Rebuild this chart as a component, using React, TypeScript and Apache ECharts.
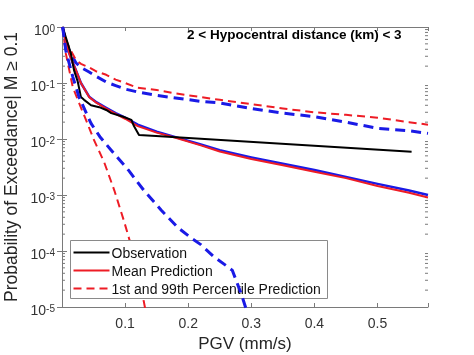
import React, { useEffect, useRef } from "react";
import * as echarts from "echarts";

// ---- data ----
const pgvPred = [0.001, 0.005, 0.011, 0.017, 0.022, 0.03, 0.043, 0.055, 0.07, 0.085, 0.1, 0.12, 0.15, 0.18, 0.22, 0.25, 0.3, 0.35, 0.4, 0.45, 0.5, 0.55, 0.58];
const meanRed = [1, 0.6, 0.35, 0.23, 0.17, 0.1, 0.056, 0.044, 0.035, 0.028, 0.023, 0.017, 0.013, 0.0105, 0.0077, 0.006, 0.0044, 0.0034, 0.0026, 0.002, 0.00145, 0.0011, 0.0009];
const meanBlue = [1, 0.6, 0.35, 0.23, 0.17, 0.1, 0.057, 0.045, 0.036, 0.029, 0.024, 0.018, 0.0135, 0.0108, 0.008, 0.0063, 0.0047, 0.0036, 0.0028, 0.0021, 0.00158, 0.0012, 0.001];
const upperRed = [1, 0.65, 0.44, 0.33, 0.26, 0.22, 0.19, 0.16, 0.14, 0.115, 0.1, 0.082, 0.075, 0.065, 0.056, 0.05, 0.042, 0.035, 0.03, 0.027, 0.024, 0.02, 0.018];
const upperBlue = [1, 0.6, 0.39, 0.29, 0.23, 0.19, 0.157, 0.13, 0.104, 0.09, 0.078, 0.069, 0.06, 0.054, 0.047, 0.044, 0.035, 0.029, 0.025, 0.02, 0.0155, 0.014, 0.0126];

const pgvLowRed = [0.001, 0.006, 0.017, 0.027, 0.038, 0.05, 0.067, 0.083, 0.098, 0.11, 0.12, 0.13, 0.135];
const lowRed = [1, 0.34, 0.085, 0.044, 0.022, 0.01, 0.0038, 0.0012, 0.00035, 0.00012, 0.00004, 0.000012, 0.000006];
const pgvLowBlue = [0.001, 0.006, 0.017, 0.027, 0.046, 0.06, 0.078, 0.105, 0.13, 0.157, 0.184, 0.205, 0.22, 0.24, 0.26, 0.27, 0.285, 0.292];
const lowBlue = [1, 0.38, 0.13, 0.056, 0.019, 0.011, 0.0063, 0.0028, 0.0012, 0.00054, 0.00026, 0.00017, 0.00013, 0.00008, 0.000055, 0.000045, 0.000016, 0.000009];

const pgvObs = [0.001, 0.014, 0.019, 0.025, 0.03, 0.035, 0.046, 0.059, 0.07, 0.078, 0.097, 0.11, 0.114, 0.122, 0.149, 0.554];
const obs = [1, 0.34, 0.17, 0.105, 0.056, 0.05, 0.04, 0.037, 0.033, 0.029, 0.025, 0.022, 0.017, 0.0118, 0.0113, 0.0059];

const legendNames = ["Observation", "Mean Prediction", "1st and 99th Percentile Prediction"];
const titleText = "2 < Hypocentral distance (km) < 3";
const xName = "PGV (mm/s)";
const yName = "Probability of Exceedance| M \u2265 0.1";

const minorVals: number[] = [];
for (let d = -5; d <= -1; d++) for (let k = 2; k <= 9; k++) minorVals.push(k * Math.pow(10, d));

const RED = "#ee1c25";
const BLUE = "#1a1ae6";
const AX = "#7a7a7a";
const FONT = "'Liberation Sans', Arial, Helvetica, sans-serif";

const zip = (xs: number[], ys: number[]) => xs.map((x, i) => [x, ys[i]]);

export default function App() {
  const ref = useRef<HTMLDivElement>(null);
  useEffect(() => {
    const chart = echarts.init(ref.current!, null, { renderer: "svg" });
    const line = (data: number[][], color: string, width: number, dashed: boolean, z = 2, dash = [8, 5]) => ({
      type: "line",
      data,
      showSymbol: false,
      symbol: "none",
      silent: true,
      z,
      lineStyle: { color, width, type: dashed ? dash : "solid", cap: "butt", join: "round" },
    });
    const yLabel = (v: number) => {
      const e = Math.round(Math.log10(v));
      return `{a|10}{b|${e}}`;
    };
    chart.setOption({
      animation: false,
      grid: { left: 62, top: 27, right: 46, bottom: 48, containLabel: false, outerBoundsMode: "none" },
      xAxis: [
        {
          type: "value", min: 0, max: 0.58, interval: 0.1,
          name: xName, nameLocation: "middle", nameGap: 20,
          nameTextStyle: { fontFamily: FONT, fontSize: 17, color: "#262626" },
          axisLine: { show: true, lineStyle: { color: AX, width: 1 } },
          axisTick: { show: true, inside: true, length: 4, lineStyle: { color: AX } },
          axisLabel: {
            fontFamily: FONT, fontSize: 14, color: "#333", margin: 9,
            formatter: (v: number) => (v > 0.05 && v < 0.55 ? v.toFixed(1) : ""),
          },
          splitLine: { show: false },
        },
        {
          type: "value", min: 0, max: 0.58, interval: 0.1, position: "top",
          axisLine: { show: true, lineStyle: { color: AX, width: 1 } },
          axisTick: { show: true, inside: true, length: 4, lineStyle: { color: AX } },
          axisLabel: { show: false },
          splitLine: { show: false },
        },
      ],
      yAxis: [
        {
          type: "log", logBase: 10, min: 1e-5, max: 1,
          name: yName, nameLocation: "middle", nameGap: 36,
          nameTextStyle: { fontFamily: FONT, fontSize: 17.5, color: "#262626" },
          axisLine: { show: true, lineStyle: { color: AX, width: 1 } },
          axisTick: { show: true, inside: true, length: 5, lineStyle: { color: AX } },
          axisLabel: {
            fontFamily: FONT, color: "#333", margin: 7, padding: [6, 0, 0, 0],
            formatter: yLabel,
            rich: {
              a: { fontFamily: FONT, fontSize: 14, color: "#333", lineHeight: 14 },
              b: { fontFamily: FONT, fontSize: 10, color: "#333", lineHeight: 10, verticalAlign: "top" },
            },
          },
          splitLine: { show: false },
        },
        {
          type: "log", logBase: 10, min: 1e-5, max: 1, position: "right",
          axisLine: { show: true, lineStyle: { color: AX, width: 1 } },
          axisTick: { show: true, inside: true, length: 5, lineStyle: { color: AX } },
          axisLabel: { show: false },
          splitLine: { show: false },
        },
      ],
      graphic: [
        {
          type: "text", left: 187, top: 27, z: 50,
          style: { text: titleText, font: `bold 13.5px ${FONT}`, fill: "#000" },
        },
        {
          type: "group", left: 70, top: 240, z: 50,
          children: [
            { type: "rect", shape: { x: 0, y: 0, width: 257, height: 58 }, style: { fill: "#fff", stroke: "#8a8a8a", lineWidth: 1 }, z: 50 },
            { type: "line", shape: { x1: 3, y1: 12, x2: 39, y2: 12 }, style: { stroke: "#000", lineWidth: 2 }, z: 51 },
            { type: "line", shape: { x1: 3, y1: 30, x2: 39, y2: 30 }, style: { stroke: RED, lineWidth: 2 }, z: 51 },
            { type: "line", shape: { x1: 3, y1: 48, x2: 39, y2: 48 }, style: { stroke: RED, lineWidth: 2, lineDash: [8, 5] }, z: 51 },
            { type: "text", x: 41, y: 12, z: 51, style: { text: legendNames[0], font: `14px ${FONT}`, fill: "#111", verticalAlign: "middle" } },
            { type: "text", x: 41, y: 30, z: 51, style: { text: legendNames[1], font: `14px ${FONT}`, fill: "#111", verticalAlign: "middle" } },
            { type: "text", x: 41, y: 48, z: 51, style: { text: legendNames[2], font: `14px ${FONT}`, fill: "#111", verticalAlign: "middle" } },
          ],
        },
      ],
      series: [
        {
          type: "custom", silent: true, clip: false, z: 3,
          data: minorVals.map((v) => [0.3, v]),
          encode: { x: 0, y: 1 },
          renderItem: (params: any, api: any) => {
            const cs = params.coordSys;
            const y = api.coord([0.3, api.value(1)])[1];
            return {
              type: "group",
              children: [
                { type: "line", shape: { x1: cs.x, y1: y, x2: cs.x + 3, y2: y }, style: { stroke: AX, lineWidth: 1 } },
                { type: "line", shape: { x1: cs.x + cs.width, y1: y, x2: cs.x + cs.width - 3, y2: y }, style: { stroke: AX, lineWidth: 1 } },
              ],
            };
          },
        },
        line(zip(pgvPred, upperBlue), BLUE, 3, true, 2, [10, 6]),
        line(zip(pgvPred, upperRed), RED, 2, true, 3, [8, 5]),
        line(zip(pgvLowRed, lowRed), RED, 2, true, 3, [8, 5]),
        line(zip(pgvLowBlue, lowBlue), BLUE, 3, true, 60, [10, 6]),
        line(zip(pgvPred, meanBlue), BLUE, 2.5, false, 4),
        line(zip(pgvPred, meanRed), RED, 2, false, 5),
        line(zip(pgvObs, obs), "#000", 2, false, 6),
      ],
    });
    return () => chart.dispose();
  }, []);
  return <div ref={ref} style={{ position: "fixed", left: 0, top: 0, width: 474, height: 355 }} />;
}
